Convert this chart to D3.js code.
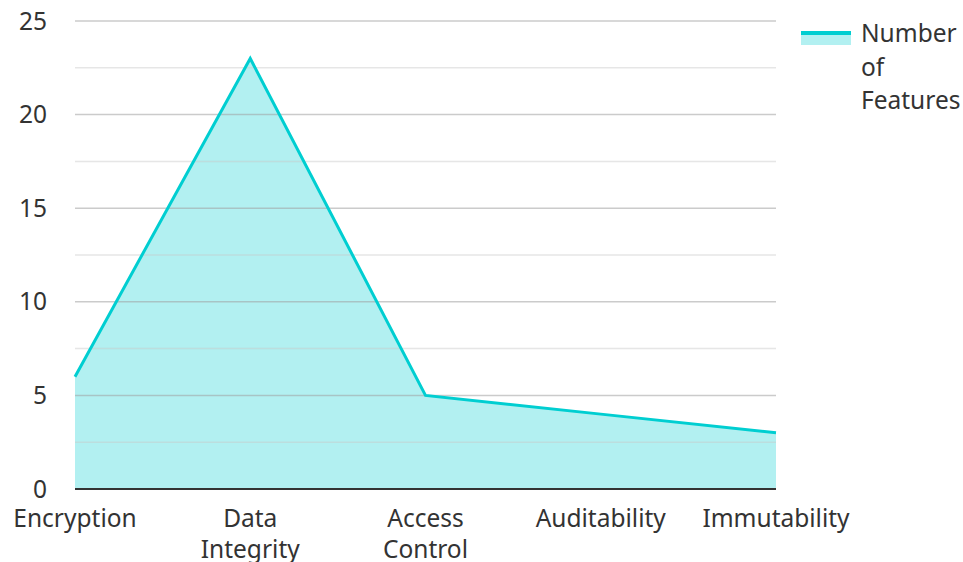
<!DOCTYPE html>
<html>
<head>
<meta charset="utf-8">
<script src="https://cdn.jsdelivr.net/npm/d3@7"></script>
<style>
  body { margin: 0; background: #fff; }
  text { font-family: "Noto Sans", "Open Sans", sans-serif; fill: #333; }
</style>
</head>
<body>
<svg id="chart" width="963" height="562"></svg>
<script>
// data
var categories = ["Encryption", "Data Integrity", "Access Control", "Auditability", "Immutability"];
var values = [6, 23, 5, 4, 3];
var yTicks = [0, 5, 10, 15, 20, 25];
var minorTicks = [2.5, 7.5, 12.5, 17.5, 22.5];
var seriesName = "Number of Features";

var svg = d3.select("#chart");
var plotLeft = 75, plotRight = 776, plotTop = 21, plotBottom = 489;
var lineColor = "#00CED1";
var fontSize = 24.5;

var x = d3.scalePoint().domain(categories).range([plotLeft, plotRight]);
var y = d3.scaleLinear().domain([0, 25]).range([plotBottom, plotTop]);

var points = categories.map(function(c, i) { return { c: c, v: values[i] }; });

// area first, grid on top so it shows through
svg.append("path")
    .datum(points)
    .attr("d", d3.area()
        .x(function(d) { return x(d.c); })
        .y0(y(0))
        .y1(function(d) { return y(d.v); }))
    .attr("fill", lineColor)
    .attr("fill-opacity", 0.3);

svg.selectAll(".minor")
    .data(minorTicks)
    .enter().append("line")
    .attr("x1", plotLeft).attr("x2", plotRight)
    .attr("y1", function(d) { return y(d); })
    .attr("y2", function(d) { return y(d); })
    .attr("stroke", "#c8c8c8")
    .attr("stroke-opacity", 0.45)
    .attr("stroke-width", 1.5);

svg.selectAll(".major")
    .data(yTicks.filter(function(t) { return t > 0; }))
    .enter().append("line")
    .attr("x1", plotLeft).attr("x2", plotRight)
    .attr("y1", function(d) { return y(d); })
    .attr("y2", function(d) { return y(d); })
    .attr("stroke", "#a0a0a0")
    .attr("stroke-opacity", 0.55)
    .attr("stroke-width", 1.5);

svg.append("path")
    .datum(points)
    .attr("d", d3.line()
        .x(function(d) { return x(d.c); })
        .y(function(d) { return y(d.v); }))
    .attr("fill", "none")
    .attr("stroke", lineColor)
    .attr("stroke-width", 3);

// baseline
svg.append("line")
    .attr("x1", plotLeft).attr("x2", plotRight)
    .attr("y1", y(0)).attr("y2", y(0))
    .attr("stroke", "#333")
    .attr("stroke-width", 2);

// y labels
svg.selectAll(".ylab")
    .data(yTicks)
    .enter().append("text")
    .attr("x", 47)
    .attr("y", function(d) { return y(d); })
    .attr("dy", "0.35em")
    .attr("text-anchor", "end")
    .attr("font-size", fontSize)
    .text(function(d) { return d; });

// x labels, wrapped on spaces
svg.selectAll(".xlab")
    .data(categories)
    .enter().append("text")
    .attr("text-anchor", "middle")
    .attr("font-size", fontSize)
    .each(function(d) {
        var words = d.split(" ");
        var t = d3.select(this);
        words.forEach(function(w, i) {
            t.append("tspan")
                .attr("x", x(d))
                .attr("y", 527 + i * 31)
                .text(w);
        });
    });

// legend
svg.append("rect")
    .attr("x", 801).attr("y", 33)
    .attr("width", 50).attr("height", 12)
    .attr("fill", lineColor).attr("fill-opacity", 0.3);
svg.append("line")
    .attr("x1", 801).attr("x2", 851)
    .attr("y1", 33).attr("y2", 33)
    .attr("stroke", lineColor).attr("stroke-width", 4);

svg.append("text")
    .attr("font-size", fontSize)
    .selectAll("tspan")
    .data(seriesName.split(" "))
    .enter().append("tspan")
    .attr("x", 861)
    .attr("y", function(d, i) { return 42 + i * 33.5; })
    .text(function(d) { return d; });
</script>
</body>
</html>
